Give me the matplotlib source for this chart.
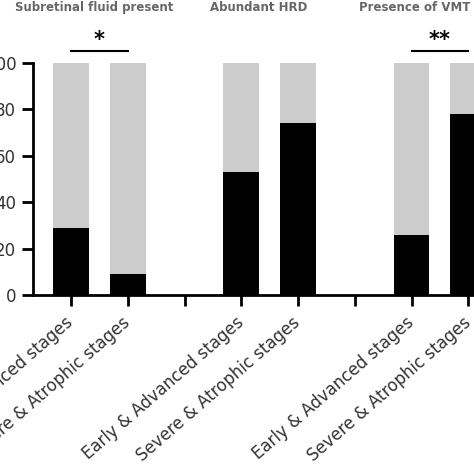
import matplotlib
matplotlib.use("Agg")
import matplotlib.pyplot as plt
import numpy as np

groups = ["Subretinal fluid present", "Abundant HRD", "Presence of VMT"]
stages = ["Early & Advanced stages", "Severe & Atrophic stages"]
present = [29, 9, 53, 74, 26, 78]   # black part (%)
total = [100, 100, 100, 100, 100, 100]
positions = [0, 1, 3, 4, 6, 7]
signif = [(0, 1, "*"), (6, 7, "**")]
title_x = [-0.98, 2.44, 5.07]

fig = plt.figure(figsize=(4.74, 4.74), dpi=100)
ax = fig.add_axes([33/474, 179/474, 441/474, 232/474])

pos = np.array(positions)
absent = np.array(total) - np.array(present)
ax.bar(pos, present, width=0.63, color="black")
ax.bar(pos, absent, width=0.63, bottom=present, color="#cccccc")

ax.set_xlim(-0.67, 7.1)
ax.set_ylim(0, 100)
ax.set_yticks([0, 20, 40, 60, 80, 100])
ax.set_xticks(range(8))
ax.set_xticklabels([stages[0], stages[1], "", stages[0], stages[1], "", stages[0], stages[1]],
                   rotation=41, ha="right", va="center", rotation_mode="anchor",
                   fontsize=12, color="#333333")
ax.tick_params(axis="y", labelsize=12, width=2, length=8, pad=4, labelcolor="#333333")
ax.tick_params(axis="x", width=2, length=8, pad=10)
for s in ["top", "right"]:
    ax.spines[s].set_visible(False)
for s in ["left", "bottom"]:
    ax.spines[s].set_linewidth(2)

for i, g in enumerate(groups):
    ax.text(title_x[i], 124, g, ha="left", va="center", fontsize=8.5,
            color="#666666", fontweight="semibold", clip_on=False)

for x0, x1, lab in signif:
    ax.plot([x0, x1], [105, 105], color="black", lw=1.5, clip_on=False)
    ax.text((x0 + x1) / 2, 110, lab, ha="center", va="center", fontsize=15,
            fontweight="bold", clip_on=False)

fig.savefig("out.png", dpi=100)
